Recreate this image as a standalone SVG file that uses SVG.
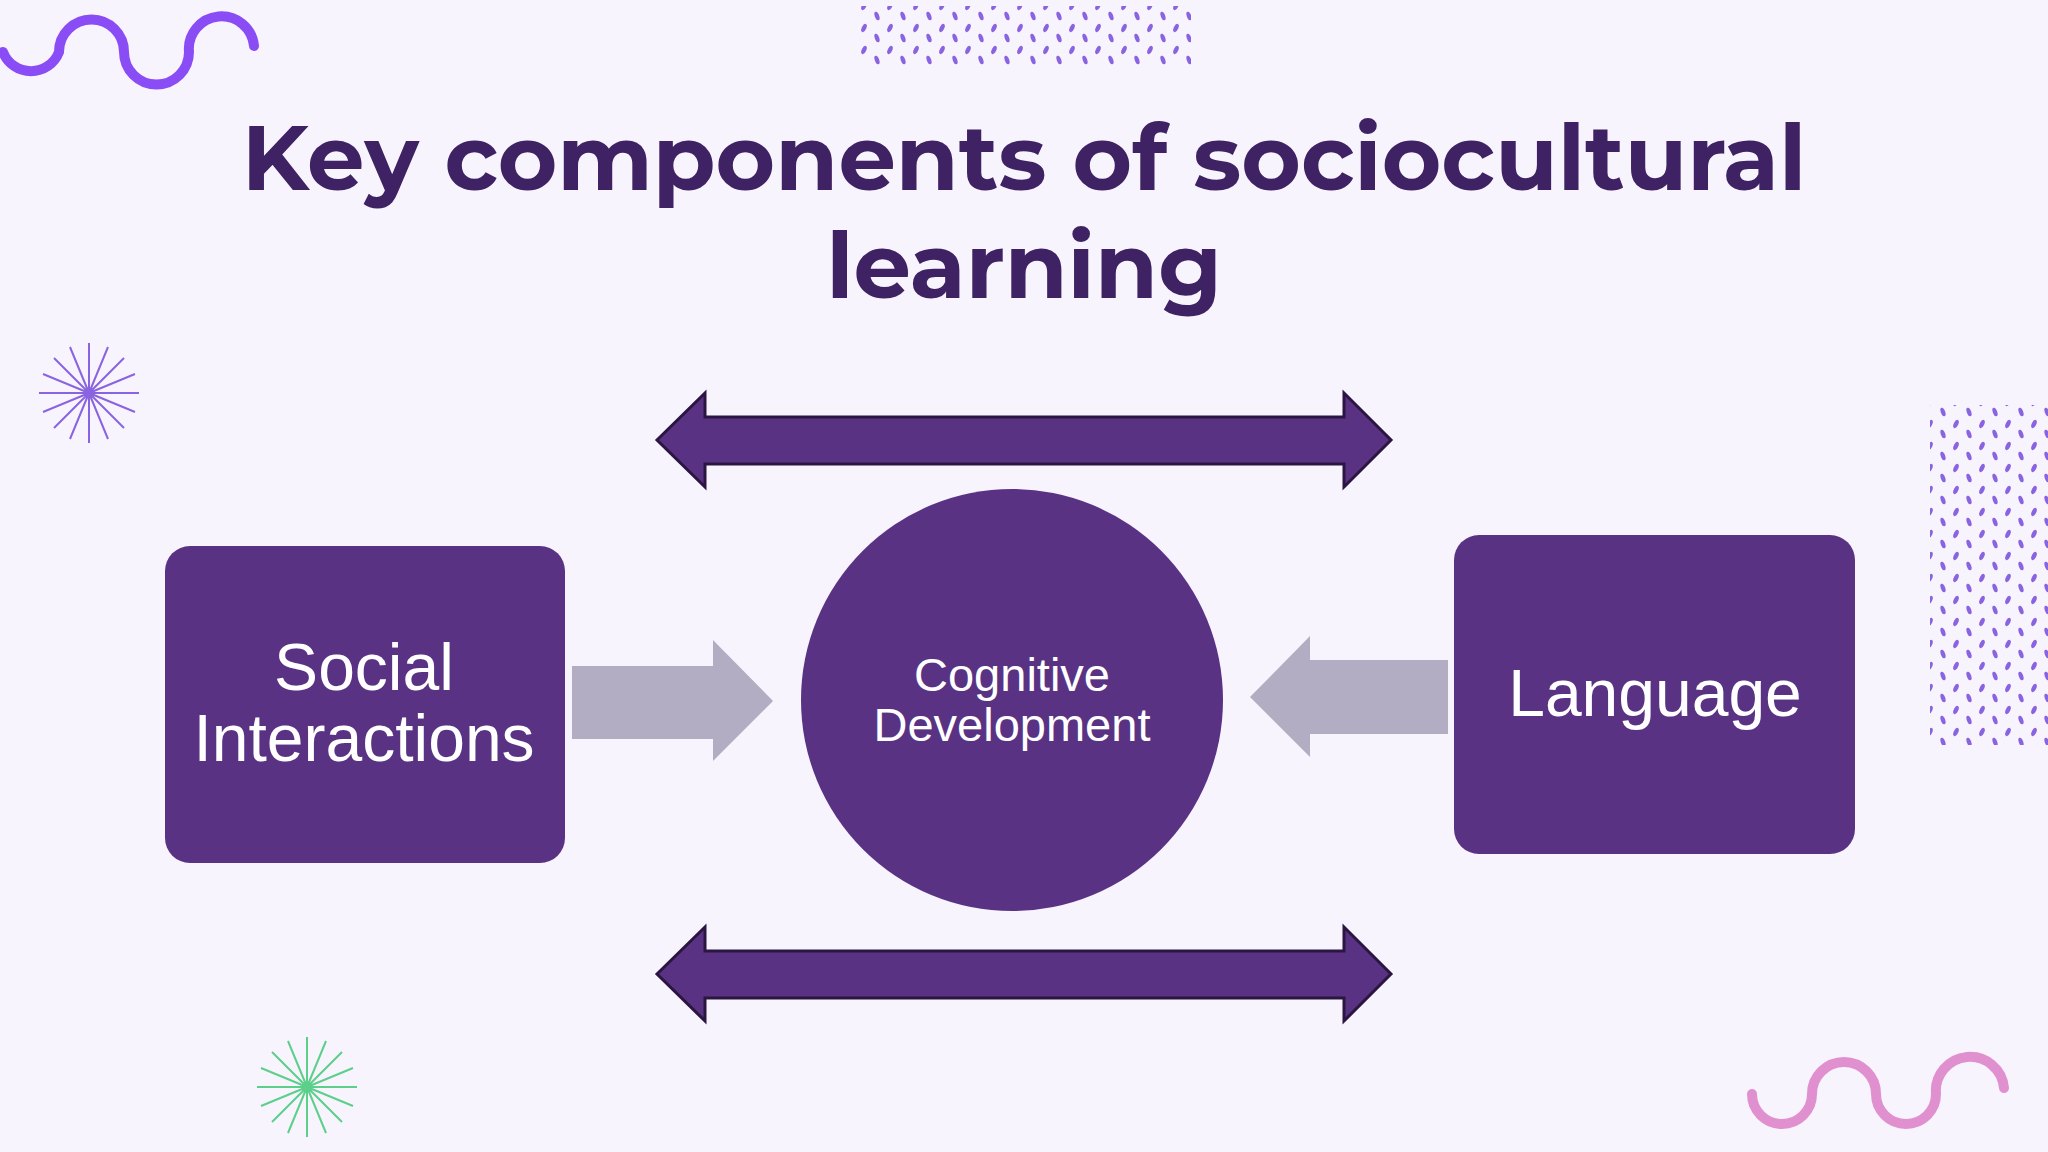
<svg xmlns="http://www.w3.org/2000/svg" width="2048" height="1152" viewBox="0 0 2048 1152">
<style>
.node{fill:#5a3284}
.wt{fill:#fff;font-family:"Liberation Sans",Arial,sans-serif;text-anchor:middle}
.dbl{fill:#5a3284;stroke:#2a1640;stroke-width:3;stroke-linejoin:miter}
.gray{fill:#b3adc3}
.ray{stroke-width:2;fill:none}
</style>
<defs>
<pattern id="dots" width="26" height="22" patternUnits="userSpaceOnUse">
<ellipse cx="6" cy="6" rx="2.2" ry="4.5" transform="rotate(25 6 6)" fill="#8a64e0"/>
<ellipse cx="19" cy="16" rx="2.2" ry="4.5" transform="rotate(-20 19 16)" fill="#8a64e0"/>
</pattern>
</defs>
<rect width="2048" height="1152" fill="#f8f4fd"/>
<rect x="858" y="6" width="333" height="60" fill="url(#dots)"/>
<rect x="1930" y="405" width="118" height="340" fill="url(#dots)"/>
<path d="M 3 52 A 30 30 0 0 0 59 52 A 32 32 0 0 1 124 52 A 30 30 0 0 0 189 52 A 32 32 0 0 1 254 46" fill="none" stroke="#8a4cf5" stroke-width="10" stroke-linecap="round"/>
<path d="M 1752 1094 A 30 30 0 0 0 1812 1094 A 32 32 0 0 1 1876 1094 A 30 30 0 0 0 1936 1094 A 32 32 0 0 1 2004 1088" fill="none" stroke="#e090cf" stroke-width="10" stroke-linecap="round"/>
<g stroke="#8a64e0" class="ray">
<path d="M89 343V443M39 393H139M54 358L124 428M54 428L124 358M70 347L108 439M108 347L70 439M43 374L135 412M43 412L135 374"/>
</g>
<g stroke="#5ccf8a" class="ray">
<path d="M307 1037V1137M257 1087H357M272 1052L342 1122M272 1122L342 1052M288 1041L326 1133M326 1041L288 1133M261 1068L353 1106M261 1106L353 1068"/>
</g>
<g id="title" font-family="Montserrat,'Noto Sans','Liberation Sans',sans-serif" font-weight="bold" font-size="91" fill="#3f2263" text-anchor="middle">
<text x="1024" y="190">Key components of sociocultural</text>
<text x="1024" y="298">learning</text>
</g>
<g id="connectors">
<path class="dbl" d="M657 440 L705 393 L705 417 L1344 417 L1344 393 L1391 440 L1344 487 L1344 464 L705 464 L705 487 Z"/>
<path class="dbl" d="M657 974 L705 927 L705 951 L1344 951 L1344 927 L1391 974 L1344 1021 L1344 998 L705 998 L705 1021 Z"/>
<path class="gray" d="M572 666 L713 666 L713 640 L773 701 L713 761 L713 739 L572 739 Z"/>
<path class="gray" d="M1448 660 L1310 660 L1310 636 L1250 697 L1310 757 L1310 734 L1448 734 Z"/>
</g>
<g id="social">
<rect class="node" x="165" y="546" width="400" height="317" rx="25"/>
<text class="wt" font-size="66" x="364" y="690">Social</text>
<text class="wt" font-size="66" x="364" y="761">Interactions</text>
</g>
<g id="cognitive">
<circle class="node" cx="1012" cy="700" r="211"/>
<text class="wt" font-size="47" x="1012" y="691">Cognitive</text>
<text class="wt" font-size="47" x="1012" y="741">Development</text>
</g>
<g id="language">
<rect class="node" x="1454" y="535" width="401" height="319" rx="25"/>
<text class="wt" font-size="66" x="1655" y="716">Language</text>
</g>
</svg>
